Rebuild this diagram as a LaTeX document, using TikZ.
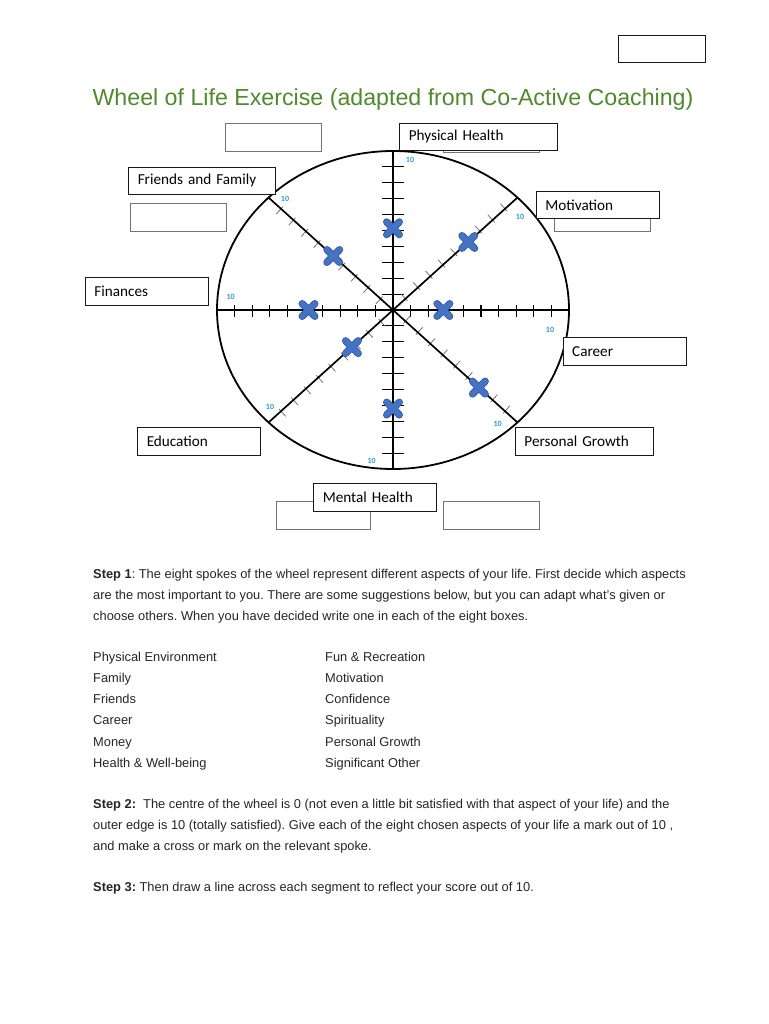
\documentclass[tikz,border=0pt]{standalone}
\usepackage{fontspec}
\setmainfont{Liberation Sans}
\newfontfamily\calibri{Carlito}
\usepackage{xcolor}
\usepackage{tikz}
\usetikzlibrary{shapes.misc, calc}
\frenchspacing
\definecolor{titlegreen}{HTML}{4F8A2C}
\definecolor{tenblue}{HTML}{2A9BD3}
\definecolor{crossblue}{HTML}{4472C4}
\definecolor{crossedge}{HTML}{2F528F}
\definecolor{bodygrey}{HTML}{262626}
\tikzset{
    labelbox/.style={rectangle, draw=black!90, fill=white, line width=0.9pt, font=\calibri\fontsize{15.2}{17}\selectfont, text=black, align=left, anchor=north west, minimum height=27.5pt, text width=105pt, inner xsep=9pt, inner ysep=0pt},
    blankbox/.style={rectangle, draw=black!55, fill=white, line width=0.9pt, anchor=north west, minimum width=95.5pt, minimum height=28pt, inner sep=0pt},
    rim/.style={line width=1.8pt, color=black},
    spoke/.style={line width=1.7pt, color=black},
    axistick/.style={line width=1.1pt, color=black},
    slanttick/.style={line width=0.8pt, color=black!55},
    tenmark/.style={font=\calibri\bfseries\fontsize{8}{9}\selectfont, text=tenblue, inner sep=0pt},
    scorecross/.style={cross out, draw=crossedge, double=crossblue, double distance=5.8pt, line width=0.7pt, line cap=round, minimum size=12pt, inner sep=0pt},
    titletext/.style={font=\fontsize{23.2}{26}\selectfont, text=titlegreen, inner sep=0pt},
    bodyline/.style={font=\fontsize{12.85}{15}\selectfont, text=bodygrey, anchor=base west, inner sep=0pt}
}

\begin{document}
\begin{tikzpicture}[x=1pt, y=-1pt]
    \fill[white] (0,0) rectangle (768,1024);
    \useasboundingbox (0,0) rectangle (768,1024);

    % title and corner box
    \node (name) [blankbox, draw=black!90, minimum width=87.3pt, minimum height=27.3pt] at (617.7,35) {};
    \node (title) [titletext] at (393,100) {Wheel of Life Exercise (adapted from Co-Active Coaching)};

    % the wheel
    \coordinate (hub) at (393,310);
    \foreach \s/\a in {rimE/0, rimNE/45, rimN/90, rimNW/135, rimW/180, rimSW/225, rimS/270, rimSE/315}
        \coordinate (\s) at ({393+176*cos(\a)}, {310-159*sin(\a)});

    \foreach \s in {rimE,rimW}
        \foreach \i in {1,...,9}
            \draw [axistick] ($(hub)!\i/10!(\s)$) ++(0,-5) -- ++(0,12);
    \foreach \s in {rimN,rimS}
        \foreach \i in {1,...,9}
            \draw [axistick] ($(hub)!\i/10!(\s)$) ++(-11,0) -- ++(22,0);
    \foreach \s in {rimNE,rimNW,rimSE,rimSW}
        \foreach \i in {1,...,9} {
            \coordinate (tk) at ($(hub)!\i/10!(\s)$);
            \draw [slanttick] ($(tk)!-3pt!90:(\s)$) -- ($(tk)!7pt!90:(\s)$);
        }

    \foreach \s in {rimE, rimNE, rimN, rimNW, rimW, rimSW, rimS, rimSE}
        \draw [spoke] (hub) -- (\s);
    \draw [rim] (hub) ellipse [x radius=176, y radius=159];

    % scale ends
    \node (tenN) [tenmark] at (410,160) {10};
    \node (tenNE) [tenmark] at (520,217) {10};
    \node (tenE) [tenmark] at (550,330) {10};
    \node (tenSE) [tenmark] at (497.7,424.3) {10};
    \node (tenS) [tenmark] at (371.7,461) {10};
    \node (tenSW) [tenmark] at (270,406.7) {10};
    \node (tenW) [tenmark] at (230.7,297.3) {10};
    \node (tenNW) [tenmark] at (285,199) {10};

    % scores
    \node (scoreN) [scorecross] at ($(hub)!0.514!(rimN)$) {};
    \node (scoreNE) [scorecross] at ($(hub)!0.605!(rimNE)$) {};
    \node (scoreE) [scorecross] at ($(hub)!0.286!(rimE)$) {};
    \node (scoreSE) [scorecross] at ($(hub)!0.69!(rimSE)$) {};
    \node (scoreS) [scorecross] at ($(hub)!0.62!(rimS)$) {};
    \node (scoreSW) [scorecross] at ($(hub)!0.33!(rimSW)$) {};
    \node (scoreW) [scorecross] at ($(hub)!0.48!(rimW)$) {};
    \node (scoreNW) [scorecross] at ($(hub)!0.48!(rimNW)$) {};

    % empty boxes
    \node (blankA) [blankbox] at (225,123.3) {};
    \node (blankB) [blankbox] at (443,123.7) {};
    \node (blankC) [blankbox] at (130,202.7) {};
    \node (blankD) [blankbox] at (554.3,202.7) {};
    \node (blankE) [blankbox, minimum width=94pt] at (276,500.5) {};
    \node (blankF) [blankbox] at (443.3,500.5) {};

    % aspect labels
    \node (physical) [labelbox, text width=140pt] at (399.3,122.7) {Physical Health};
    \node (friends) [labelbox, text width=128.7pt] at (128.3,166.7) {Friends and Family};
    \node (motivation) [labelbox] at (536,190.7) {Motivation};
    \node (finances) [labelbox] at (85,277.3) {Finances};
    \node (career) [labelbox] at (562.7,337.3) {Career};
    \node (education) [labelbox] at (137.3,427.3) {Education};
    \node (growth) [labelbox, text width=120.3pt] at (515,427.3) {Personal Growth};
    \node (mental) [labelbox] at (313.3,483.3) {Mental Health};

    % instructions
    \node (stepA1) [bodyline] at (93,578) {\textbf{Step 1}: The eight spokes of the wheel represent different aspects of your life. First decide which aspects};
    \node (stepA2) [bodyline] at (93,599) {are the most important to you. There are some suggestions below, but you can adapt what’s given or};
    \node (stepA3) [bodyline] at (93,620) {choose others. When you have decided write one in each of the eight boxes.};

    \node (sugA) [bodyline] at (93,661) {Physical Environment};
    \node (sugB) [bodyline] at (93,682) {Family};
    \node (sugC) [bodyline] at (93,703) {Friends};
    \node (sugD) [bodyline] at (93,724) {Career};
    \node (sugE) [bodyline] at (93,746) {Money};
    \node (sugF) [bodyline] at (93,767) {Health \& Well-being};
    \node (sugG) [bodyline] at (325,661) {Fun \& Recreation};
    \node (sugH) [bodyline] at (325,682) {Motivation};
    \node (sugI) [bodyline] at (325,703) {Confidence};
    \node (sugJ) [bodyline] at (325,724) {Spirituality};
    \node (sugK) [bodyline] at (325,746) {Personal Growth};
    \node (sugL) [bodyline] at (325,767) {Significant Other};

    \node (stepB1) [bodyline] at (93,808) {\textbf{Step 2:}\ \ The centre of the wheel is 0 (not even a little bit satisfied with that aspect of your life) and the};
    \node (stepB2) [bodyline] at (93,829) {outer edge is 10 (totally satisfied). Give each of the eight chosen aspects of your life a mark out of 10 ,};
    \node (stepB3) [bodyline] at (93,850) {and make a cross or mark on the relevant spoke.};

    \node (stepC1) [bodyline] at (93,891) {\textbf{Step 3:} Then draw a line across each segment to reflect your score out of 10.};
\end{tikzpicture}
\end{document}
